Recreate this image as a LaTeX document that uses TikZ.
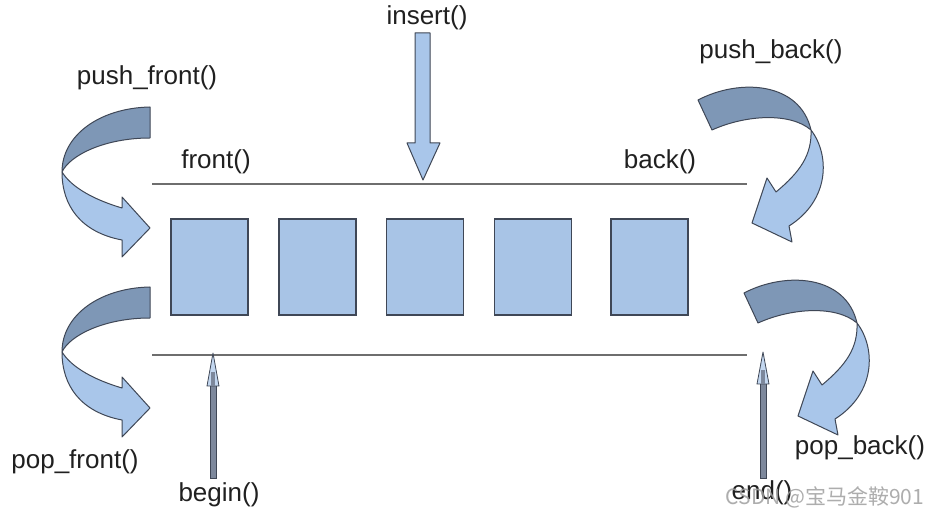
\documentclass[tikz,border=0pt]{standalone}
\usepackage{fontspec}
\setmainfont{Liberation Sans}
\newfontfamily\cjk{Noto Sans CJK SC}
\definecolor{boxblue}{HTML}{A8C4E6}
\definecolor{ribdark}{HTML}{7E97B6}
\definecolor{riblight}{HTML}{A9C6EA}
\definecolor{edgec}{HTML}{3F4756}
\definecolor{railgray}{HTML}{6E6E6E}
\definecolor{stemgray}{HTML}{7D889C}
\definecolor{txt}{HTML}{202020}
\begin{document}
\begin{tikzpicture}[x=1pt,y=-1pt,
  lbl/.style={font=\fontsize{26}{30}\selectfont, text=txt, inner sep=0pt},
  cell/.style={draw=edgec, fill=boxblue, line width=1.2pt, minimum width=77pt, minimum height=96pt, inner sep=0pt},
  rail/.style={draw=railgray, line width=1.8pt},
  darkpart/.style={fill=ribdark, draw=edgec, line width=1pt, line join=round},
  lightpart/.style={fill=riblight, draw=edgec, line width=1pt, line join=round},
  stem/.style={fill=stemgray, draw=edgec, line width=0.8pt},
  stemhead/.style={fill=riblight!70!white, draw=edgec, line width=0.8pt, line join=round}
]
\useasboundingbox (0,0) rectangle (935,518);
\fill[white] (0,0) rectangle (935,518);

% rails
\coordinate (tl) at (152,184);
\coordinate (tr) at (747,184);
\coordinate (bl) at (152,355);
\coordinate (br) at (747,355);
\draw[rail] (tl) -- (tr);
\draw[rail] (bl) -- (br);

% cells
\node[cell] (c1) at (209.5,267) {};
\node[cell] (c2) at (317.5,267) {};
\node[cell] (c3) at (425,267) {};
\node[cell] (c4) at (533,267) {};
\node[cell] (c5) at (649.5,267) {};

% labels
\node[lbl] (insert) at (427,18) {insert()};
\node[lbl] (pushf) at (147,78) {push\_front()};
\node[lbl] (pushb) at (771,52) {push\_back()};
\node[lbl] (front) at (216,162) {front()};
\node[lbl] (back) at (660,162) {back()};
\node[lbl] (popf) at (75,462) {pop\_front()};
\node[lbl] (popb) at (860,448) {pop\_back()};
\node[lbl] (begin) at (219,495) {begin()};
\node[lbl] (end) at (762,493) {end()};

% insert arrow
\draw[lightpart] (415,33) -- (430,33) -- (430,143) -- (440,143) -- (423,180) -- (407,143) -- (415,143) -- cycle;

% begin arrow
\coordinate (bgtip) at (213,353);
\fill[stem] (210,380) rectangle (216,478);
\draw[stemhead] (207,386) -- (bgtip) -- (219,386) -- cycle;
\fill[stemgray] (211,372) rectangle (215,386);

% end arrow
\coordinate (endtip) at (763,352);
\fill[stem] (760,380) rectangle (766,478);
\draw[stemhead] (757,384) -- (endtip) -- (769,384) -- cycle;
\fill[stemgray] (761,370) rectangle (765,384);

% push_front / pop_front ribbons
\foreach \dy in {0,180}{
\begin{scope}[shift={(0,\dy)}]
\draw[darkpart] (150,107) .. controls (100,108) and (62,135) .. (62,172)
   .. controls (70,155) and (105,138) .. (150,138) -- cycle;
\draw[lightpart] (62,172) .. controls (62,205) and (80,232) .. (122,240)
   -- (122,257) -- (150,228) -- (122,197) -- (122,208)
   .. controls (95,200) and (72,188) .. (62,172) -- cycle;
\end{scope}}

% push_back / pop_back ribbons
\foreach \dx/\dy in {0/0,46/193}{
\begin{scope}[shift={(\dx,\dy)}]
\draw[darkpart] (698,100) .. controls (740,78) and (800,82) .. (811,130)
   .. controls (790,112) and (745,115) .. (712,130) -- cycle;
\draw[lightpart] (811,130) .. controls (830,155) and (830,200) .. (789,226)
   -- (792,242) -- (752,223) -- (767,178) -- (776,192)
   .. controls (800,172) and (812,155) .. (811,130) -- cycle;
\end{scope}}

% watermark
\node[font=\cjk\fontsize{21}{24}\selectfont, text=gray!75, opacity=0.85, inner sep=0pt] (wm) at (825,497) {CSDN @宝马金鞍901};
\end{tikzpicture}
\end{document}
